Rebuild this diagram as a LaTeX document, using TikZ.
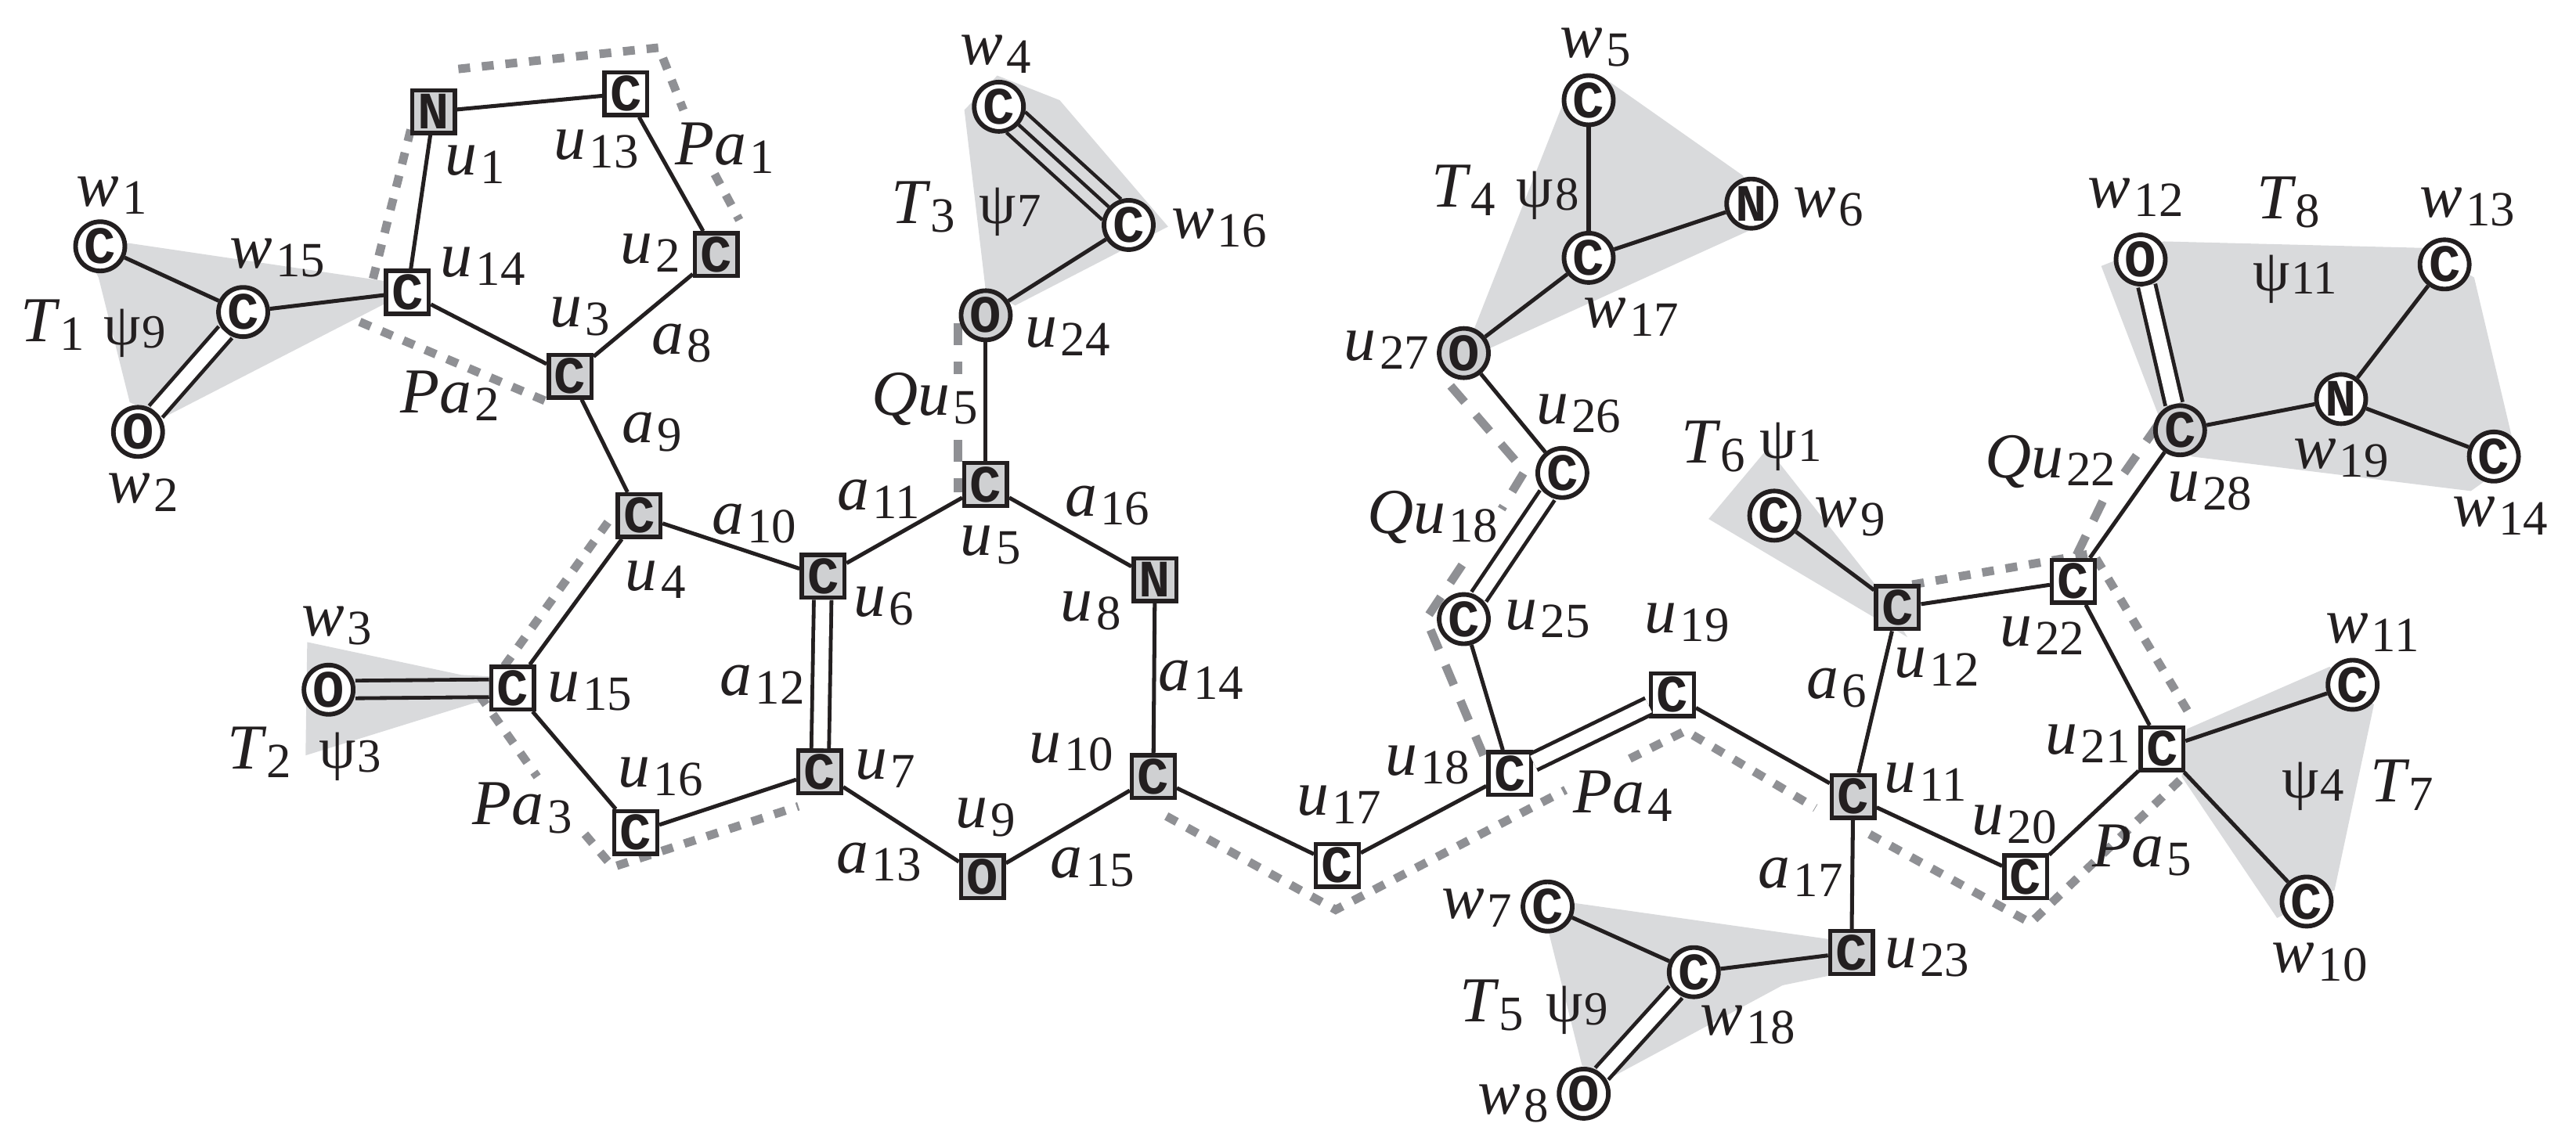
\documentclass[tikz,border=0pt]{standalone}
\usepackage{fontspec}
\setmainfont{Liberation Serif}
\newfontfamily\atomfont{Liberation Mono Bold}
\definecolor{ink}{HTML}{231F20}
\definecolor{shadeg}{HTML}{D9DADC}
\definecolor{nodeg}{HTML}{CFD0D2}
\definecolor{dashg}{HTML}{8F9094}
\newcommand\SubLab[5]{\node[lbl] (l#1) at (#2,#3) {\itshape #4\kern1pt\raisebox{-2.6pt}{\upshape\fontsize{15}{16}\selectfont #5}};}
\newcommand\PsiLab[4]{\node[lbl] (l#1) at (#2,#3) {\fontsize{18}{18}\selectfont ψ\kern.5pt\raisebox{-1pt}{\fontsize{14.5}{15}\selectfont #4}};}
\newcommand\AtomS[5]{\node[sq,fill=#5] (#1) at (#2,#3) {#4};}
\newcommand\AtomC[5]{\node[ci,fill=#5] (#1) at (#2,#3) {#4};}
\tikzset{
  lbl/.style={inner sep=0pt,text=ink,font=\fontsize{19.5}{20}\selectfont},
  sq/.style={draw=ink,line width=1.3pt,rectangle,minimum size=13pt,inner sep=0pt,text=ink,font=\atomfont\fontsize{16}{13}\selectfont},
  ci/.style={draw=ink,line width=1.4pt,circle,minimum size=15pt,inner sep=0pt,text=ink,font=\atomfont\fontsize{16}{13}\selectfont},
  bond/.style={draw=ink,line width=1.2pt},
  dbond/.style={draw=ink,line width=1.15pt,double=white,double distance=4.2pt},
  dbondg/.style={draw=ink,line width=1.15pt,double=shadeg,double distance=4.2pt},
  tline/.style={draw=ink,line width=1.05pt,shorten <=-1.2pt,shorten >=-1.2pt},
  pa/.style={draw=dashg,line width=2.6pt,dash pattern=on 3.6pt off 3.6pt},
  qu/.style={draw=dashg,line width=2.6pt,dash pattern=on 6.5pt off 5.2pt},
  shd/.style={fill=shadeg,draw=none}
}
\begin{document}
\begin{tikzpicture}[x=0.5pt,y=-0.5pt]
\useasboundingbox (0,0) rectangle (1568,696.8);
% shaded fragments
\fill[shd] (60,169)--(50,150)--(78,148)--(240,172)--(240,182)--(100,254)--(79,245)--cycle;
\fill[shd] (187,391)--(281,411)--(300,412)--(300,428)--(289,428)--(186,460)--cycle;
\fill[shd] (607,46)--(645,61)--(711,138)--(618,186)--(600,177)--(587,67)--cycle;
\fill[shd] (980,50)--(1061,107)--(1070,138)--(907,212)--(897,201)--(951,64)--cycle;
\fill[shd] (1076,273)--(1143,358)--(1161,388)--(1040,316)--cycle;
\fill[shd] (943,569)--(942,552)--(959,550)--(1114,572)--(1114,594)--(1085,600)--(981,656)--(963,649)--cycle;
\fill[shd] (1331,444)--(1418,406)--(1445,429)--(1421,542)--(1386,559)--(1328,473)--cycle;
\fill[shd] (1317,147)--(1476,151)--(1506,169)--(1532,279)--(1504,299)--(1334,278)--(1315,256)--(1279,162)--cycle;
% dashed paths
\draw[pa] (250,79)--(227,170);
\draw[pa] (279,42)--(401,29)--(416,67);
\draw[pa] (435,106)--(450,134);
\draw[pa] (219,196)--(334,245);
\draw[pa] (370,318)--(293,425)--(327,473);
\draw[pa] (356,508)--(373,528)--(486,491);
\draw[pa] (710,497)--(813,554)--(953,481);
\draw[pa] (992,462)--(1026,445)--(1105,492);
\draw[pa] (1138,508)--(1236,562)--(1327,475);
\draw[pa] (1164,356)--(1274,337)--(1334,437);
\draw[qu] (583,197)--(583,228);
\draw[qu] (583,268)--(583,300);
\draw[qu] (883,235)--(928,287)--(914,310);
\draw[qu] (890,344)--(868,377)--(903,460);
\draw[qu] (1264,338)--(1280,305);
\draw[qu] (1293,288)--(1314,258);
% atoms
\AtomS{u1}{264}{68}{N}{nodeg}
\AtomS{u13}{381}{57}{C}{white}
\AtomS{u2}{436}{155}{C}{nodeg}
\AtomS{u3}{347}{229}{C}{nodeg}
\AtomS{u14}{248}{178}{C}{white}
\AtomS{u4}{389}{314}{C}{nodeg}
\AtomS{u6}{501}{351}{C}{nodeg}
\AtomS{u5}{600}{295}{C}{nodeg}
\AtomS{u8}{703}{353}{N}{nodeg}
\AtomS{u10}{702}{473}{C}{nodeg}
\AtomS{u9}{598}{534}{O}{nodeg}
\AtomS{u7}{499}{470}{C}{nodeg}
\AtomS{u15}{312}{419}{C}{white}
\AtomS{u16}{387}{507}{C}{white}
\AtomS{u17}{814}{527}{C}{white}
\AtomS{u18}{919}{471}{C}{white}
\AtomS{u19}{1018}{423}{C}{white}
\AtomS{u11}{1128}{485}{C}{nodeg}
\AtomS{u12}{1155}{370}{C}{nodeg}
\AtomS{u22}{1262}{354}{C}{white}
\AtomS{u21}{1316}{456}{C}{white}
\AtomS{u20}{1233}{534}{C}{white}
\AtomS{u23}{1127}{580}{C}{nodeg}
\AtomC{u24}{600}{192}{O}{nodeg}
\AtomC{u27}{891}{215}{O}{nodeg}
\AtomC{u28}{1327}{262}{C}{nodeg}
\AtomC{u25}{891}{377}{C}{white}
\AtomC{u26}{951}{288}{C}{white}
\AtomC{w1}{61}{150}{C}{white}
\AtomC{w2}{84}{263}{O}{white}
\AtomC{w15}{148}{190}{C}{white}
\AtomC{w3}{200}{420}{O}{white}
\AtomC{w4}{608}{65}{C}{white}
\AtomC{w16}{687}{137}{C}{white}
\AtomC{w5}{967}{61}{C}{white}
\AtomC{w6}{1066}{124}{N}{white}
\AtomC{w17}{967}{157}{C}{white}
\AtomC{w7}{942}{552}{C}{white}
\AtomC{w8}{964}{666}{O}{white}
\AtomC{w18}{1031}{592}{C}{white}
\AtomC{w9}{1080}{314}{C}{white}
\AtomC{w10}{1404}{549}{C}{white}
\AtomC{w11}{1432}{417}{C}{white}
\AtomC{w12}{1303}{158}{O}{white}
\AtomC{w13}{1488}{161}{C}{white}
\AtomC{w14}{1518}{278}{C}{white}
\AtomC{w19}{1425}{243}{N}{white}
% bonds
\foreach \a/\b in {u1/u13,u13/u2,u2/u3,u3/u14,u14/u1,u14/w15,w15/w1,u3/u4,u4/u6,u4/u15,u15/u16,u16/u7,u6/u5,u5/u8,u8/u10,u10/u9,u9/u7,u5/u24,u24/w16,u10/u17,u17/u18,u18/u25,u26/u27,u27/w17,w17/w5,w17/w6,u19/u11,u11/u12,u11/u20,u11/u23,u23/w18,w18/w7,u12/u22,u12/w9,u22/u21,u21/u20,u21/w11,u21/w10,u22/u28,u28/w19,w19/w13,w19/w14}
  \draw[bond] (\a)--(\b);
\foreach \a/\b in {w15/w2,u6/u7,u18/u19,u25/u26,w18/w8,u28/w12}
  \draw[dbond] (\a)--(\b);
\draw[dbondg] (w3)--(u15);
\draw[draw=ink,line width=1.05pt] (w4)--(w16);
\draw[tline,transform canvas={shift={(2.85pt,3.15pt)}}] (w4)--(w16);
\draw[tline,transform canvas={shift={(-2.85pt,-3.15pt)}}] (w4)--(w16);
% labels
\SubLab{w1}{68}{119}{w}{1}
\SubLab{w2}{87}{300}{w}{2}
\SubLab{w15}{169}{157}{w}{15}
\SubLab{T1}{32}{198}{T}{1}
\PsiLab{p9a}{82}{203}{9}
\SubLab{u1}{289}{100}{u}{1}
\SubLab{u13}{363}{91}{u}{13}
\SubLab{Pa1}{441}{90}{Pa}{1}
\SubLab{u14}{294}{162}{u}{14}
\SubLab{u2}{396}{154}{u}{2}
\SubLab{u3}{353}{193}{u}{3}
\SubLab{a8}{415}{209}{a}{8}
\SubLab{Pa2}{274}{241}{Pa}{2}
\SubLab{a9}{397}{263}{a}{9}
\SubLab{u4}{399}{353}{u}{4}
\SubLab{u6}{538}{369}{u}{6}
\SubLab{a10}{459}{319}{a}{10}
\SubLab{a11}{535}{304}{a}{11}
\SubLab{u5}{603}{332}{u}{5}
\SubLab{a16}{674}{308}{a}{16}
\SubLab{u8}{664}{372}{u}{8}
\SubLab{a12}{464}{417}{a}{12}
\SubLab{u15}{359}{421}{u}{15}
\SubLab{u16}{402}{473}{u}{16}
\SubLab{u7}{539}{468}{u}{7}
\SubLab{u10}{652}{458}{u}{10}
\SubLab{u9}{600}{498}{u}{9}
\SubLab{a13}{535}{525}{a}{13}
\SubLab{a15}{665}{528}{a}{15}
\SubLab{a14}{731}{414}{a}{14}
\SubLab{Pa3}{318}{492}{Pa}{3}
\SubLab{T2}{158}{458}{T}{2}
\PsiLab{p3}{213}{461}{3}
\SubLab{w3}{205}{381}{w}{3}
\SubLab{w4}{606}{33}{w}{4}
\SubLab{T3}{562}{126}{T}{3}
\PsiLab{p7}{615}{129}{7}
\SubLab{w16}{742}{139}{w}{16}
\SubLab{u24}{650}{205}{u}{24}
\SubLab{Qu5}{563}{243}{Qu}{5}
\SubLab{w5}{971}{29}{w}{5}
\SubLab{T4}{891}{116}{T}{4}
\PsiLab{p8}{942}{119}{8}
\SubLab{w6}{1113}{126}{w}{6}
\SubLab{w17}{993}{193}{w}{17}
\SubLab{u27}{844}{213}{u}{27}
\SubLab{u26}{961}{252}{u}{26}
\SubLab{Qu18}{872}{315}{Qu}{18}
\SubLab{T6}{1043}{272}{T}{6}
\PsiLab{p1}{1090}{272}{1}
\SubLab{w9}{1126}{315}{w}{9}
\SubLab{u25}{942}{377}{u}{25}
\SubLab{u19}{1027}{379}{u}{19}
\SubLab{u18}{869}{466}{u}{18}
\SubLab{u17}{815}{490}{u}{17}
\SubLab{Pa4}{988}{485}{Pa}{4}
\SubLab{w7}{899}{553}{w}{7}
\SubLab{T5}{908}{612}{T}{5}
\PsiLab{p9b}{960}{615}{9}
\SubLab{w8}{921}{672}{w}{8}
\SubLab{w18}{1064}{624}{w}{18}
\SubLab{u12}{1179}{406}{u}{12}
\SubLab{u22}{1243}{387}{u}{22}
\SubLab{a6}{1118}{419}{a}{6}
\SubLab{u11}{1172}{476}{u}{11}
\SubLab{u20}{1226}{502}{u}{20}
\SubLab{u21}{1271}{453}{u}{21}
\SubLab{a17}{1096}{534}{a}{17}
\SubLab{u23}{1173}{583}{u}{23}
\SubLab{Pa5}{1304}{518}{Pa}{5}
\SubLab{w11}{1444}{385}{w}{11}
\PsiLab{p4}{1408}{479}{4}
\SubLab{T7}{1462}{478}{T}{7}
\SubLab{w10}{1412}{586}{w}{10}
\SubLab{w12}{1300}{120}{w}{12}
\SubLab{T8}{1393}{123}{T}{8}
\PsiLab{p11}{1397}{170}{11}
\SubLab{w13}{1502}{126}{w}{13}
\SubLab{Qu22}{1248}{281}{Qu}{22}
\SubLab{u28}{1345}{299}{u}{28}
\SubLab{w19}{1425}{279}{w}{19}
\SubLab{w14}{1522}{314}{w}{14}
\end{tikzpicture}
\end{document}
